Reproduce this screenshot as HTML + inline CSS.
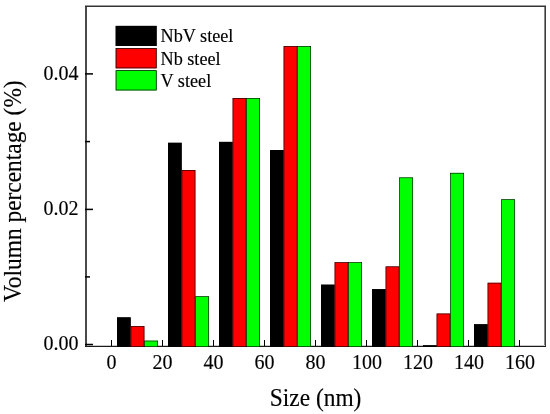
<!DOCTYPE html>
<html><head><meta charset="utf-8"><style>
html,body{margin:0;padding:0;background:#fff;}
svg{display:block;}
text{font-family:"Liberation Serif","Times New Roman",serif;fill:#000;stroke:#000;stroke-width:0.15px;}
.t{font-size:20px;}
.l{font-size:18.2px;}
.a{font-size:23.4px;}
</style></head><body>
<svg width="550" height="414" viewBox="0 0 550 414">
<rect x="0" y="0" width="550" height="414" fill="#fff"/>
<rect x="85" y="5" width="2" height="342" fill="#4a4a4a"/>
<rect x="544" y="5" width="1" height="342" fill="#888"/>
<rect x="545" y="5" width="1" height="342" fill="#3a3a3a"/>
<rect x="85" y="5" width="461" height="1" fill="#999"/>
<rect x="85" y="6" width="461" height="1" fill="#333"/>
<rect x="87" y="345" width="458" height="1" fill="#c8c8c8"/>
<rect x="85" y="346" width="461" height="1" fill="#1a1a1a"/>
<rect x="111" y="340" width="1" height="6" fill="#000"/>
<text x="111.5" y="369.1" text-anchor="middle" class="t">0</text>
<rect x="162" y="340" width="1" height="6" fill="#000"/>
<text x="162.5" y="369.1" text-anchor="middle" class="t">20</text>
<rect x="213" y="340" width="1" height="6" fill="#000"/>
<text x="213.5" y="369.1" text-anchor="middle" class="t">40</text>
<rect x="264" y="340" width="1" height="6" fill="#000"/>
<text x="264.5" y="369.1" text-anchor="middle" class="t">60</text>
<rect x="315" y="340" width="1" height="6" fill="#000"/>
<text x="315.5" y="369.1" text-anchor="middle" class="t">80</text>
<rect x="366" y="340" width="1" height="6" fill="#000"/>
<text x="367.0" y="369.1" text-anchor="middle" class="t">100</text>
<rect x="417" y="340" width="1" height="6" fill="#000"/>
<text x="418.0" y="369.1" text-anchor="middle" class="t">120</text>
<rect x="468" y="340" width="1" height="6" fill="#000"/>
<text x="469.0" y="369.1" text-anchor="middle" class="t">140</text>
<rect x="519" y="340" width="1" height="6" fill="#000"/>
<text x="520.0" y="369.1" text-anchor="middle" class="t">160</text>
<rect x="85" y="343.75" width="8" height="1.5" fill="#000"/>
<text x="78.6" y="350.3" text-anchor="end" class="t">0.00</text>
<rect x="85" y="276.15" width="5" height="1.5" fill="#000"/>
<rect x="85" y="208.65" width="8" height="1.5" fill="#000"/>
<text x="78.6" y="215.2" text-anchor="end" class="t">0.02</text>
<rect x="85" y="140.85" width="5" height="1.5" fill="#000"/>
<rect x="85" y="73.15" width="8" height="1.5" fill="#000"/>
<text x="78.6" y="79.7" text-anchor="end" class="t">0.04</text>
<rect x="117.00" y="317.40" width="13.67" height="29.60" fill="#000000"/>
<rect x="117.30" y="317.70" width="13.07" height="29.00" fill="none" stroke="#000" stroke-width="0.6"/>
<rect x="130.67" y="326.10" width="13.67" height="20.90" fill="#ff0000"/>
<rect x="130.97" y="326.40" width="13.07" height="20.30" fill="none" stroke="#000" stroke-width="0.6"/>
<rect x="144.33" y="340.70" width="13.67" height="6.30" fill="#00ff00"/>
<rect x="144.63" y="341.00" width="13.07" height="5.70" fill="none" stroke="#000" stroke-width="0.6"/>
<rect x="168.00" y="142.80" width="13.67" height="204.20" fill="#000000"/>
<rect x="168.30" y="143.10" width="13.07" height="203.60" fill="none" stroke="#000" stroke-width="0.6"/>
<rect x="181.67" y="170.00" width="13.67" height="177.00" fill="#ff0000"/>
<rect x="181.97" y="170.30" width="13.07" height="176.40" fill="none" stroke="#000" stroke-width="0.6"/>
<rect x="195.33" y="296.40" width="13.67" height="50.60" fill="#00ff00"/>
<rect x="195.63" y="296.70" width="13.07" height="50.00" fill="none" stroke="#000" stroke-width="0.6"/>
<rect x="219.00" y="141.90" width="13.67" height="205.10" fill="#000000"/>
<rect x="219.30" y="142.20" width="13.07" height="204.50" fill="none" stroke="#000" stroke-width="0.6"/>
<rect x="232.67" y="98.00" width="13.67" height="249.00" fill="#ff0000"/>
<rect x="232.97" y="98.30" width="13.07" height="248.40" fill="none" stroke="#000" stroke-width="0.6"/>
<rect x="246.33" y="98.00" width="13.67" height="249.00" fill="#00ff00"/>
<rect x="246.63" y="98.30" width="13.07" height="248.40" fill="none" stroke="#000" stroke-width="0.6"/>
<rect x="270.00" y="150.00" width="13.67" height="197.00" fill="#000000"/>
<rect x="270.30" y="150.30" width="13.07" height="196.40" fill="none" stroke="#000" stroke-width="0.6"/>
<rect x="283.67" y="46.10" width="13.67" height="300.90" fill="#ff0000"/>
<rect x="283.97" y="46.40" width="13.07" height="300.30" fill="none" stroke="#000" stroke-width="0.6"/>
<rect x="297.33" y="46.10" width="13.67" height="300.90" fill="#00ff00"/>
<rect x="297.63" y="46.40" width="13.07" height="300.30" fill="none" stroke="#000" stroke-width="0.6"/>
<rect x="321.00" y="284.70" width="13.67" height="62.30" fill="#000000"/>
<rect x="321.30" y="285.00" width="13.07" height="61.70" fill="none" stroke="#000" stroke-width="0.6"/>
<rect x="334.67" y="262.30" width="13.67" height="84.70" fill="#ff0000"/>
<rect x="334.97" y="262.60" width="13.07" height="84.10" fill="none" stroke="#000" stroke-width="0.6"/>
<rect x="348.33" y="262.30" width="13.67" height="84.70" fill="#00ff00"/>
<rect x="348.63" y="262.60" width="13.07" height="84.10" fill="none" stroke="#000" stroke-width="0.6"/>
<rect x="372.00" y="289.10" width="13.67" height="57.90" fill="#000000"/>
<rect x="372.30" y="289.40" width="13.07" height="57.30" fill="none" stroke="#000" stroke-width="0.6"/>
<rect x="385.67" y="266.50" width="13.67" height="80.50" fill="#ff0000"/>
<rect x="385.97" y="266.80" width="13.07" height="79.90" fill="none" stroke="#000" stroke-width="0.6"/>
<rect x="399.33" y="177.50" width="13.67" height="169.50" fill="#00ff00"/>
<rect x="399.63" y="177.80" width="13.07" height="168.90" fill="none" stroke="#000" stroke-width="0.6"/>
<rect x="423.00" y="345.30" width="13.67" height="1.70" fill="#000000"/>
<rect x="423.30" y="345.60" width="13.07" height="1.10" fill="none" stroke="#000" stroke-width="0.6"/>
<rect x="436.67" y="313.60" width="13.67" height="33.40" fill="#ff0000"/>
<rect x="436.97" y="313.90" width="13.07" height="32.80" fill="none" stroke="#000" stroke-width="0.6"/>
<rect x="450.33" y="172.90" width="13.67" height="174.10" fill="#00ff00"/>
<rect x="450.63" y="173.20" width="13.07" height="173.50" fill="none" stroke="#000" stroke-width="0.6"/>
<rect x="474.00" y="324.20" width="13.67" height="22.80" fill="#000000"/>
<rect x="474.30" y="324.50" width="13.07" height="22.20" fill="none" stroke="#000" stroke-width="0.6"/>
<rect x="487.67" y="282.80" width="13.67" height="64.20" fill="#ff0000"/>
<rect x="487.97" y="283.10" width="13.07" height="63.60" fill="none" stroke="#000" stroke-width="0.6"/>
<rect x="501.33" y="199.40" width="13.67" height="147.60" fill="#00ff00"/>
<rect x="501.63" y="199.70" width="13.07" height="147.00" fill="none" stroke="#000" stroke-width="0.6"/>
<rect x="115.7" y="25.9" width="40.9" height="20.1" fill="#000000"/>
<rect x="116.05" y="26.25" width="40.20" height="19.40" fill="none" stroke="#000" stroke-width="0.7"/>
<text x="160.5" y="42.2" class="l">NbV steel</text>
<rect x="115.7" y="48.2" width="40.9" height="20.1" fill="#ff0000"/>
<rect x="116.05" y="48.55" width="40.20" height="19.40" fill="none" stroke="#000" stroke-width="0.7"/>
<text x="160.5" y="64.5" class="l">Nb steel</text>
<rect x="115.7" y="70.3" width="40.9" height="20.1" fill="#00ff00"/>
<rect x="116.05" y="70.65" width="40.20" height="19.40" fill="none" stroke="#000" stroke-width="0.7"/>
<text x="160.5" y="86.6" class="l">V steel</text>
<text transform="translate(315.6,405.6) scale(1,1.09)" x="0" y="0" text-anchor="middle" class="a">Size (nm)</text>
<text transform="translate(21,191.2) rotate(-90) scale(1,1.05)" x="0" y="0" text-anchor="middle" class="a">Volumn percentage (%)</text>
</svg>
</body></html>
